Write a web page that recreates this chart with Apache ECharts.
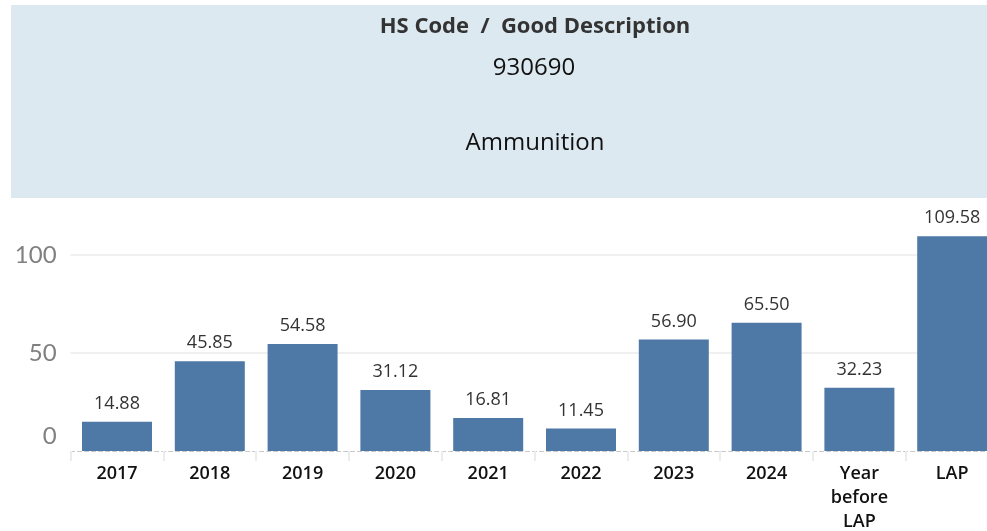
<!DOCTYPE html>
<html>
<head>
<meta charset="utf-8">
<script src="https://cdn.jsdelivr.net/npm/echarts@6/dist/echarts.min.js"></script>
<style>
  html, body { margin: 0; padding: 0; background: #fff; }
  #chart { width: 987px; height: 531px; }
</style>
</head>
<body>
<div id="chart"></div>
<script>
const categories = ['2017', '2018', '2019', '2020', '2021', '2022', '2023', '2024', 'Year\nbefore\nLAP', 'LAP']
const values = [14.88, 45.85, 54.58, 31.12, 16.81, 11.45, 56.90, 65.50, 32.23, 109.58]
const headerLines = ['HS Code  /  Good Description', '930690', 'Ammunition']

let myChart = echarts.init(document.getElementById('chart'))

const option = {
  animation: false,
  graphic: [
    { type: 'rect', shape: { x: 11, y: 5, width: 990, height: 193 }, style: { fill: '#dde9f0' }, z: -1 },
    { type: 'text', x: 535, y: 27, style: { text: headerLines[0], font: 'bold 22px "Open Sans"', fill: '#333', textAlign: 'center', textVerticalAlign: 'middle' } },
    { type: 'text', x: 534, y: 68, style: { text: headerLines[1], font: '24px "Open Sans"', fill: '#111', textAlign: 'center', textVerticalAlign: 'middle' } },
    { type: 'text', x: 535, y: 143, style: { text: headerLines[2], font: '24px "Open Sans"', fill: '#111', textAlign: 'center', textVerticalAlign: 'middle' } }
  ],
  grid: { left: 70.6, width: 928, top: 210, bottom: 80, containLabel: false, outerBoundsMode: 'none' },
  xAxis: {
    type: 'category',
    data: categories,
    axisLine: { show: true, lineStyle: { color: '#c8c8c8', type: [4, 3], width: 1 } },
    axisTick: { show: true, alignWithLabel: false, length: 10, lineStyle: { color: '#ececec', width: 2 } },
    axisLabel: { color: '#111', fontSize: 18, fontWeight: 600, fontFamily: 'Open Sans', lineHeight: 24, margin: 11, interval: 0 }
  },
  yAxis: {
    type: 'value',
    min: 0,
    max: 123,
    interval: 50,
    axisLine: { show: false },
    axisTick: { show: false },
    splitLine: { show: true, showMinLine: false, showMaxLine: false, lineStyle: { color: '#ebebeb', width: 1.5 } },
    axisLabel: {
      showMaxLabel: false,
      color: '#808080',
      fontSize: 24,
      fontFamily: 'Lato',
      margin: 14,
      formatter: v => v === 0 ? '{z|0}' : String(v),
      rich: { z: { fontSize: 24, color: '#808080', fontFamily: 'Lato', padding: [0, 0, 30, 0] } }
    }
  },
  series: [{
    type: 'bar',
    data: values,
    barWidth: 70,
    itemStyle: { color: '#4e79a7' },
    label: {
      show: true,
      position: 'top',
      distance: 9,
      color: '#333',
      fontSize: 18,
      fontFamily: 'Open Sans',
      formatter: p => p.value.toFixed(2)
    }
  }]
}

myChart.setOption(option)
</script>
</body>
</html>
